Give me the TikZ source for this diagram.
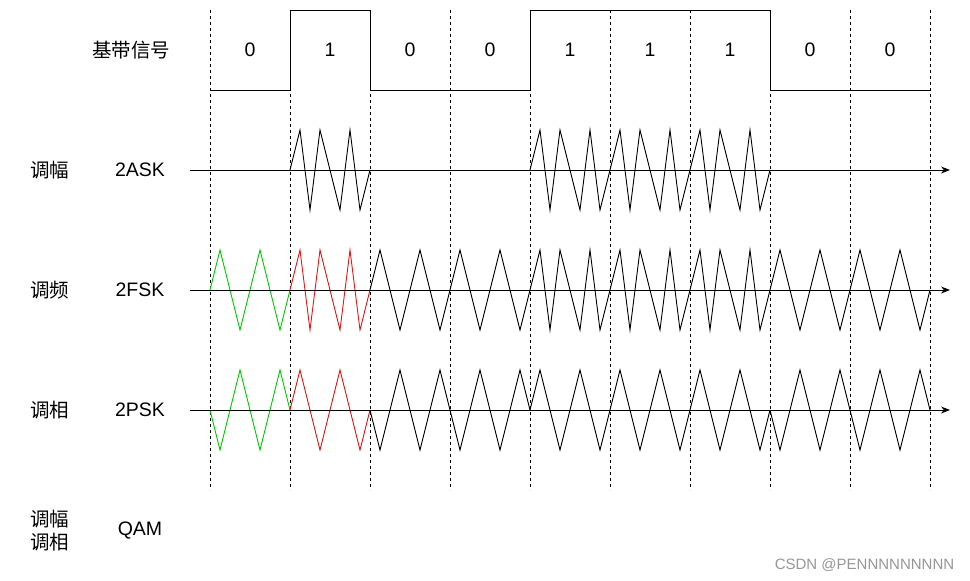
\documentclass[tikz,border=0pt]{standalone}
\usepackage{fontspec}
\setmainfont{Liberation Sans}
\newfontfamily\cjk{Noto Sans CJK SC}
\usetikzlibrary{arrows.meta}
\definecolor{wgreen}{RGB}{0,204,0}
\definecolor{wred}{RGB}{230,20,20}
\definecolor{wmark}{RGB}{150,150,150}
\tikzset{
  lbl/.style={font=\fontsize{19.5}{21}\selectfont, inner sep=0pt},
  cjklbl/.style={font=\cjk\fontsize{19.5}{23}\selectfont, inner sep=0pt, align=center},
  guide/.style={dash pattern=on 3pt off 3pt, line width=0.9pt},
  wave/.style={line width=0.9pt, line join=miter},
  axisline/.style={line width=1pt, -{Stealth[length=9pt,width=7pt]}},
}
% patterns, relative moves (y axis points down)
\def\fastp{-- ++(10,-40) -- ++(10,80) -- ++(10,-80) -- ++(20,80) -- ++(10,-80) -- ++(10,80) -- ++(10,-40)}
\def\slowp{-- ++(10,-40) -- ++(20,80) -- ++(20,-80) -- ++(20,80) -- ++(10,-40)}
\def\slowi{-- ++(10,40) -- ++(20,-80) -- ++(20,80) -- ++(20,-80) -- ++(10,40)}
\begin{document}
\begin{tikzpicture}[x=1pt,y=-1pt]
\useasboundingbox (0,0) rectangle (970,581);
% guides
\foreach \i in {0,...,9}{
  \draw[guide] (210+80*\i,10) -- (210+80*\i,490);
}
% baseband signal
\draw[wave] (210,90) -- (290,90) -- (290,10) -- (370,10) -- (370,90) -- (530,90) -- (530,10) -- (770,10) -- (770,90) -- (930,90);
\foreach \b [count=\k from 0] in {0,1,0,0,1,1,1,0,0}{
  \node[lbl] (bit\k) at (250+80*\k,50) {\b};
}
% row labels
\node[cjklbl] (bb) at (131,50) {基带信号};
\node[cjklbl] (am) at (50,170) {调幅};
\node[lbl] (ask) at (140,170) {2ASK};
\node[cjklbl] (fm) at (50,290) {调频};
\node[lbl] (fsk) at (140,290) {2FSK};
\node[cjklbl] (pm) at (50,410) {调相};
\node[lbl] (psk) at (140,410) {2PSK};
\node[cjklbl] (ampm) at (50,531) {调幅\\调相};
\node[lbl] (qam) at (140,531) {QAM};
% 2ASK
\foreach \x in {290,530,610,690}{
  \draw[wave] (\x,170) \fastp;
}
% 2FSK
\draw[wave,wgreen] (210,290) \slowp;
\draw[wave,wred] (290,290) \fastp;
\foreach \x in {370,450,770,850}{
  \draw[wave] (\x,290) \slowp;
}
\foreach \x in {530,610,690}{
  \draw[wave] (\x,290) \fastp;
}
% 2PSK
\draw[wave,wgreen] (210,410) \slowi;
\draw[wave,wred] (290,410) \slowp;
\foreach \x in {370,450,770,850}{
  \draw[wave] (\x,410) \slowi;
}
\foreach \x in {530,610,690}{
  \draw[wave] (\x,410) \slowp;
}
% axes
\coordinate (a1s) at (190,170); \coordinate (a1e) at (950,170);
\coordinate (a2s) at (190,290); \coordinate (a2e) at (950,290);
\coordinate (a3s) at (190,410); \coordinate (a3e) at (950,410);
\draw[axisline] (a1s) -- (a1e);
\draw[axisline] (a2s) -- (a2e);
\draw[axisline] (a3s) -- (a3e);
% watermark
\node[font=\fontsize{15}{17}\selectfont, text=wmark, inner sep=0pt] (wm) at (864.5,565) {CSDN @PENNNNNNNNN};
\end{tikzpicture}
\end{document}
